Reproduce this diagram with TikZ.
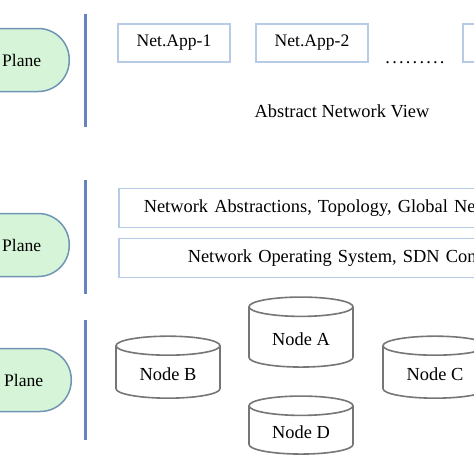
\documentclass[tikz,border=0pt]{standalone}
\usepackage{fontspec}
\setmainfont{Liberation Serif}
\usetikzlibrary{shapes.geometric}
\definecolor{planefill}{HTML}{D6F5D8}
\definecolor{planeedge}{HTML}{7094B4}
\definecolor{sepblue}{HTML}{6384BC}
\definecolor{boxedge}{HTML}{B7CBE6}
\definecolor{cylgrey}{HTML}{767676}
\begin{document}
\begin{tikzpicture}[x=1pt,y=1pt,font=\fontsize{18.4}{22}\selectfont,
    plane/.style={draw=planeedge, fill=planefill, line width=1.5pt, rounded corners=31pt,
      minimum height=63pt, text width=50pt, align=right, inner xsep=28pt, anchor=east,
      font=\fontsize{17.6}{21}\selectfont},
    sep/.style={draw=sepblue, line width=3pt},
    appbox/.style={draw=boxedge, fill=white, line width=1.5pt, minimum width=112pt, minimum height=38pt,
      font=\fontsize{17.6}{21}\selectfont},
    layerbox/.style={draw=boxedge, fill=white, line width=1.5pt, minimum height=39pt, anchor=west, align=left},
    store/.style={cylinder, shape border rotate=90, aspect=0.3, draw=cylgrey, fill=white, line width=1.6pt,
      minimum width=104pt, minimum height=62pt}]
  \useasboundingbox (0,0) rectangle (474,-474);
  % planes on the left
  \node[plane] (appplane) at (70,-60) {Plane};
  \node[plane] (ctrlplane) at (70,-245) {Plane};
  \node[plane] (dataplane) at (72,-380) {Plane};
  % separators
  \draw[sep] (85,-14) -- (85,-127);
  \draw[sep] (85,-180) -- (85,-294);
  \draw[sep] (85,-320) -- (85,-440);
  % application layer
  \node[appbox] (app1) at (174,-43) {Net.App-1};
  \node[appbox] (app2) at (312,-43) {Net.App-2};
  \node[appbox, anchor=west] (app3) at (462,-43) {};
  \node (dots) at (415,-63) {\addfontfeature{LetterSpace=12}.........};
  \node (view) at (342,-111) {Abstract Network View};
  % control layer
  \node[layerbox, text width=420pt, inner xsep=25pt] (abstr) at (118,-208)
    {Network Abstractions, Topology, Global Net};
  \node[layerbox, text width=380pt, inner xsep=69pt] (nos) at (118,-258)
    {Network Operating System, SDN Cont};
  % data layer
  \node[store, minimum height=70pt] (nodeA) at (301,-339) {Node A};
  \node[store] (nodeB) at (168,-374) {Node B};
  \node[store] (nodeC) at (435,-374) {Node C};
  \node[store, minimum height=58pt] (nodeD) at (301,-432) {Node D};
\end{tikzpicture}
\end{document}
